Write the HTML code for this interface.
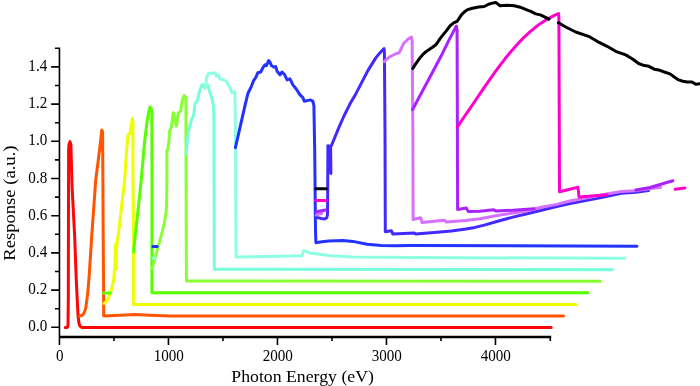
<!DOCTYPE html>
<html><head><meta charset="utf-8"><title>Response vs Photon Energy</title>
<style>
html,body{margin:0;padding:0;background:#fff;}
body{width:700px;height:386px;overflow:hidden;}
svg{display:block;}
text{font-family:"Liberation Serif","Times New Roman",serif;fill:#000;}
.tk{font-size:15.1px;}
.ti{font-size:17.75px;}
.ty{font-size:18.6px;}
.c{fill:none;stroke-width:3;stroke-linecap:round;stroke-linejoin:round;}
.ax{fill:none;stroke:#000;stroke-width:1.6;stroke-linecap:butt;}
</style></head><body>
<svg width="700" height="386" viewBox="0 0 700 386">
<rect width="700" height="386" fill="#fff"/>
<polyline class="c" stroke="#ff0606" points="65.3,327.4 67.4,327.4 68.0,325.5 68.3,300 68.6,150.6 69,144.6 70,141.6 70.9,144.6 72,185.4 74.6,235 76.4,283 78,315 79,323.5 80,326.3 82,327.4 551.2,327.4"/>
<polyline class="c" stroke="#ff5500" points="79.2,315.9 82,315.6 84,313 85.7,308.6 87.6,294.3 88.9,280 92,232.1 95.7,180.4 99.3,152 101.8,130.1 102.6,131.6 102.9,180.4 103.2,235 103.6,285 103.7,315.9 120,315.3 135,314.5 150,315.2 170,315.9 563.5,315.9"/>
<polyline class="c" stroke="#eeff00" points="104.2,303.3 105.5,302.3 107.1,300.7 110,294.3 112.1,287 113.6,280 114.4,271 115.1,262 115.3,244.8 116.2,269.3 116.4,252 116.9,243.8 118.7,232.1 121.5,207.2 124.6,180.4 126.5,152.6 127.9,135.1 130,133.6 131,126.6 132.4,118.6 132.9,120.6 133,180.4 133.5,235 133.4,304.4 575.8,304.4"/>
<polyline class="c" stroke="#55ff00" points="103.6,292.9 109.9,292.9"/>
<polyline class="c" stroke="#55ff00" points="133.6,252 135.3,235 139,201.3 141.2,180.4 144.7,140.6 147.1,121.3 149,110.6 150,107 151.2,108.6 151.8,112.6 152,180.4 151.9,292.7 588.0,292.7"/>
<polyline class="c" stroke="#88ff33" points="152.1,268.6 161.4,235 164.5,222.1 166,213.2 166.6,205.3 166.9,180.4 166.9,150.6 167.9,149.2 169,140.6 169.6,131.3 171.4,127 173.3,112.7 176.4,126.3 178.3,112.7 180.7,111.3 182.6,98.5 184.3,95.6 185.7,97.7 186,105.6 186,140.6 186.4,281 600.3,281.2"/>
<polyline class="c" stroke="#77ffdd" points="186,153.5 188.6,130.6 189.3,128.5 191.4,119.9 193.6,115.6 195,103.5 197.4,100.6 199.3,92 201.4,85.6 202.7,84.3 204.7,87.9 207.8,85.3 209.3,90.6 212.1,99.2 213.6,106.3 213.9,115.6 214.3,269.3 612.5,269.7"/>
<polyline class="c" stroke="#8effe4" points="152.9,258.1 154.9,258.1"/>
<polyline class="c" stroke="#8effe4" points="205.8,86.9 206.5,77.6 208.3,73.6 210,73.2 215.4,73 216.4,76.2 218.3,75.6 220.4,79.4 223.4,79.4 226.5,81.8 229.5,86.9 232,92.9 233,92.6 234.5,91.4 235,94.9 235.4,130.6 236,257.1 302,255.8 303.6,250.8 310,252.9 331.4,255.7 352.9,257.1 410,257.6 624.8,258.2"/>
<polyline class="c" stroke="#2233ff" points="152.9,246.4 157.1,246.4"/>
<polyline class="c" stroke="#2233ff" points="235.4,147.7 238.6,133.6 245,105.6 247.9,93.5 251.4,86.3 253.6,80.6 255.7,77.7 257.9,72.7 260.7,72 262.9,67.7 265,64.9 266.4,65.6 268.6,60.6 270,62 271.4,65.6 273.6,67 275.7,66.6 277.1,71.3 280,74.9 282.1,72 284.3,74.2 287.1,79.9 290,78.9 292.9,84.9 296.4,89.2 300,94.9 302.9,97.7 304.3,101.3 307.1,100.6 310.7,99.9 312.9,101.3 313.9,105.6 314.7,150.6 315.5,230.1 315.9,242.7 322,241.7 328.6,241 342.9,240.5 352.9,241.4 367.1,244.3 381.4,245.4 395.7,245.7 410,245.5 637.0,246.2"/>
<polyline class="c" stroke="#4429ff" points="316.6,217.4 321.3,218.5 324.8,218.9 326.6,218 327.4,215.2 327.6,211.2 327.9,145.8 329.4,146.2 330.9,173.5 330.6,146.6 331.6,145.2 332.1,144 338.5,128.4 344.2,115.5 349.9,104.1 354.9,95.6 360.6,84.6 368,70.4 375.8,57.9 380,52.8 384.1,48.5 384.4,52.6 385,130.6 385.3,231.8 391.4,230.8 392.9,234 414.3,233 415.7,234 437.1,232.2 451.4,231.1 465.7,229.1 475,227.4 484.3,225.1 498.6,221 512.9,217.1 527.1,213.8 541.4,210.2 555.7,206.7 570,203.6 600,197.9 621.4,193.3 635.7,192.3 648.5,190.6"/>
<polyline class="c" stroke="#d570ff" points="316.2,215 321.8,213.3"/>
<polyline class="c" stroke="#d570ff" points="384.3,61.7 389.3,57 396.4,53.5 399.3,52.7 403.6,43.5 407.9,39.2 411.4,37 412.1,40.6 412.9,135.6 413.1,219.5 420.7,217.8 422.1,222.5 444.3,220.2 446.4,222 465.7,220.5 480,218.8 498.6,215.2 527.1,210.9 541.4,207.3 555.7,204.6 570,201 608,193.8 621.4,191.4 634.3,190.8 660.6,187.3"/>
<polyline class="c" stroke="#aa22ff" points="316.2,211.7 325.4,210.1"/>
<polyline class="c" stroke="#aa22ff" points="412.6,109.5 433.7,70 442.3,53.7 449.3,39.4 456.4,26 457.1,30.6 457.6,209.5 466.4,208.1 468.3,211.6 480,211.2 493.6,209.8 495.7,210.9 512.9,210.2 534,208.8"/>
<polyline class="c" stroke="#aa22ff" points="635.8,190.1 650,187.5 664.3,183.3 672.9,180.8"/>
<polyline class="c" stroke="#ff00cc" points="315.7,200.5 326.4,200.5"/>
<polyline class="c" stroke="#ff00cc" points="457.4,126.8 463.4,118.0 469.4,109.4 475.4,100.5 481.4,91.7 487.4,82.9 493.4,74.4 499.4,66.1 505.4,58.3 511.4,51.0 517.4,44.2 523.4,37.9 529.4,32.3 535.4,27.3 541.4,22.9 547.4,19.1 553.4,15.9 558.5,13.5 558.9,17.6 559.5,191.7 578,187.3 579,196.9 607.1,194.7"/>
<polyline class="c" stroke="#ff00cc" points="675.1,189.2 684.9,188"/>
<polyline class="c" stroke="#000000" points="315.7,188.8 326.4,188.8"/>
<polyline class="c" stroke="#000000" points="412.8,68.5 415.2,64.6 417.8,60.9 420.5,57.2 423.5,53.8 426.3,51.4 429.2,49.5 432.5,47.3 435.6,45 437.6,42.4 439.9,38.9 443,34.9 446.3,30.9 450,25.8 453.6,22.9 457.1,21.3 458.6,19.2 461.4,14.9 464.3,12 467.1,9.9 471.4,8.5 478.6,7 484.3,6.5 488.6,4.2 492.5,3.1 495.7,2.5 497.6,3.9 500,5.8 507.1,5.3 514.3,5.8 520.2,7.2 528.6,10.6 530.3,11.2 535.7,13.9 540.4,14.9 549,19.1"/>
<polyline class="c" stroke="#000000" points="558.5,22.8 565.7,27 575.7,32 588.6,36.3 597.1,41.3 607.1,46.3 615.7,51.3 625.7,54.9 632.9,59.2 638.6,63.5 644.3,65.6 647.9,65.9 654.3,69.2 658.6,69.9 664.3,72 670,73.9 674.3,77 678.6,79.9 682.9,81.3 687.1,82 692.1,82 695.7,84.2 702,83.5"/>
<path class="ax" d="M59.45,47.55 V337.40 H551.2 M58.65,336.60 H551.2 M59.45,327.30 h-8.3 M59.45,308.70 h-4.5 M59.45,290.10 h-8.3 M59.45,271.50 h-4.5 M59.45,252.90 h-8.3 M59.45,234.30 h-4.5 M59.45,215.70 h-8.3 M59.45,197.10 h-4.5 M59.45,178.50 h-8.3 M59.45,159.90 h-4.5 M59.45,141.30 h-8.3 M59.45,122.70 h-4.5 M59.45,104.10 h-8.3 M59.45,85.50 h-4.5 M59.45,66.90 h-8.3 M59.45,48.30 h-4.5 M59.45,336.60 v8.3 M113.95,336.60 v4.5 M168.45,336.60 v8.3 M222.95,336.60 v4.5 M277.45,336.60 v8.3 M331.95,336.60 v4.5 M386.45,336.60 v8.3 M440.95,336.60 v4.5 M495.45,336.60 v8.3 M550.30,336.60 v4.5"/>
<text class="tk" transform="translate(47.2,331.40) scale(1,1.1)" text-anchor="end">0.0</text>
<text class="tk" transform="translate(47.2,294.20) scale(1,1.1)" text-anchor="end">0.2</text>
<text class="tk" transform="translate(47.2,257.00) scale(1,1.1)" text-anchor="end">0.4</text>
<text class="tk" transform="translate(47.2,219.80) scale(1,1.1)" text-anchor="end">0.6</text>
<text class="tk" transform="translate(47.2,182.60) scale(1,1.1)" text-anchor="end">0.8</text>
<text class="tk" transform="translate(47.2,145.40) scale(1,1.1)" text-anchor="end">1.0</text>
<text class="tk" transform="translate(47.2,108.20) scale(1,1.1)" text-anchor="end">1.2</text>
<text class="tk" transform="translate(47.2,71.00) scale(1,1.1)" text-anchor="end">1.4</text>
<text class="tk" transform="translate(59.75,360.8) scale(1,1.1)" text-anchor="middle">0</text>
<text class="tk" transform="translate(168.75,360.8) scale(1,1.1)" text-anchor="middle">1000</text>
<text class="tk" transform="translate(277.75,360.8) scale(1,1.1)" text-anchor="middle">2000</text>
<text class="tk" transform="translate(386.75,360.8) scale(1,1.1)" text-anchor="middle">3000</text>
<text class="tk" transform="translate(495.75,360.8) scale(1,1.1)" text-anchor="middle">4000</text>
<text class="ti" transform="translate(302.6,381.6) scale(1,0.94)" text-anchor="middle">Photon Energy (eV)</text>
<text class="ty" transform="translate(15.1,203.1) rotate(-90) scale(1,0.9)" text-anchor="middle">Response (a.u.)</text>
</svg>
</body></html>
